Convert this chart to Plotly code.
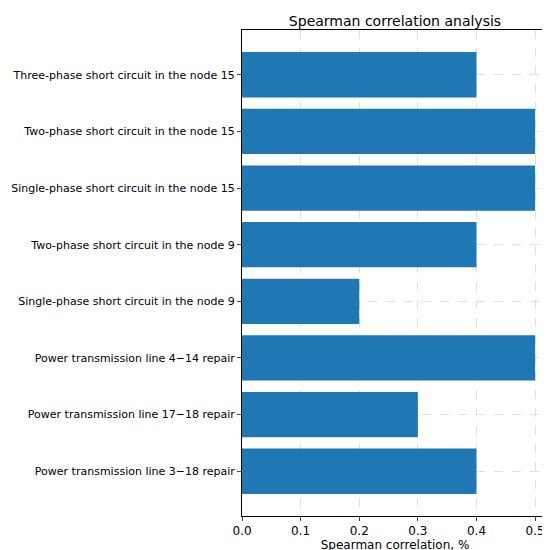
import plotly.graph_objects as go

categories = [
    "Power transmission line 3−18 repair",
    "Power transmission line 17−18 repair",
    "Power transmission line 4−14 repair",
    "Single-phase short circuit in the node 9",
    "Two-phase short circuit in the node 9",
    "Single-phase short circuit in the node 15",
    "Two-phase short circuit in the node 15",
    "Three-phase short circuit in the node 15",
]
values = [0.4, 0.3, 0.5, 0.2, 0.4, 0.5, 0.5, 0.4]
tick_vals = [0.0, 0.1, 0.2, 0.3, 0.4, 0.5]
tick_text = ["0.0", "0.1", "0.2", "0.3", "0.4", "0.5"]

fig = go.Figure(go.Bar(
    x=values, y=list(range(len(categories))), orientation="h",
    marker=dict(color="#1f77b4", line=dict(width=0)), width=0.8,
))
fig.update_layout(
    width=550, height=550,
    margin=dict(l=234, r=10, t=22, b=42),
    paper_bgcolor="white", plot_bgcolor="white",
    font=dict(family="DejaVu Sans", size=12, color="black"),
    title=dict(text="Spearman correlation analysis", x=0.5, xref="paper",
               y=1, yref="paper", yanchor="bottom", pad=dict(b=4),
               font=dict(size=14)),
    showlegend=False,
)
fig.update_xaxes(
    range=[0, 0.522], tickvals=tick_vals, ticktext=tick_text, automargin=False,
    title=dict(text="Spearman correlation, %", standoff=2, font=dict(size=12)),
    showgrid=True, gridcolor="#e0e0e0", griddash="dash", gridwidth=1,
    showline=True, linecolor="black", mirror=True, ticks="outside",
    ticklen=4, zeroline=False,
)
fig.update_yaxes(
    range=[-0.79, 7.79], tickvals=list(range(len(categories))), ticktext=categories,
    automargin=False,
    showgrid=True, gridcolor="#e0e0e0", griddash="dash", gridwidth=1,
    showline=True, linecolor="black", mirror=True, ticks="outside",
    ticklen=4, zeroline=False, tickfont=dict(size=11),
)
fig.write_html("out.html")
